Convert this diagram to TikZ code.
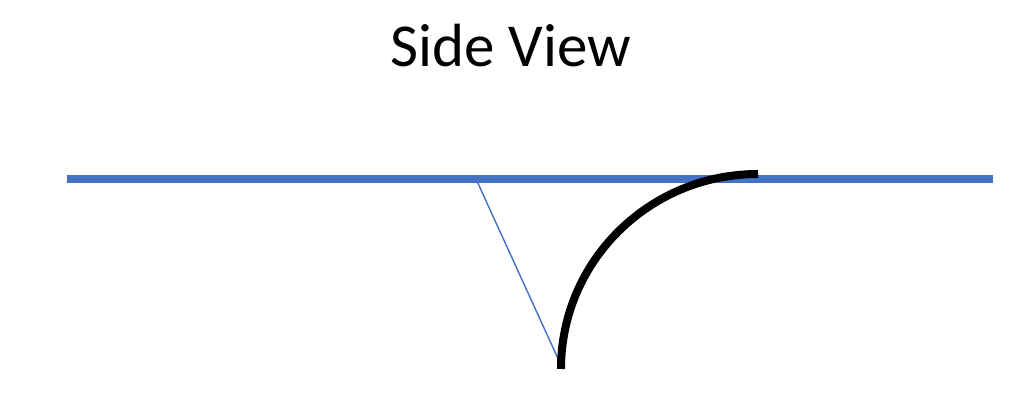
\documentclass[tikz,border=0pt]{standalone}
\usepackage{fontspec}
\setmainfont{Carlito}
\definecolor{sideblue}{HTML}{4472C4}
\tikzset{
    surface/.style={sideblue, line width=8pt},
    guide/.style={sideblue, line width=1.4pt},
    blade/.style={black, line width=8pt},
}

\begin{document}
\begin{tikzpicture}[x=1pt,y=1pt]
    \useasboundingbox (0,0) rectangle (1030,404);
    \node (title) at (511,358) {\fontsize{61}{70}\selectfont Side View};
    \coordinate (left) at (67,225);
    \coordinate (right) at (993,225);
    \coordinate (pivot) at (476,225);
    \coordinate (tip) at (560,41);
    \coordinate (base) at (561,35);
    \draw[surface] (left) -- (right);
    \draw[guide] (pivot) -- (tip);
    \draw[blade] (base) arc[start angle=180, end angle=90, x radius=197, y radius=195];
\end{tikzpicture}
\end{document}
